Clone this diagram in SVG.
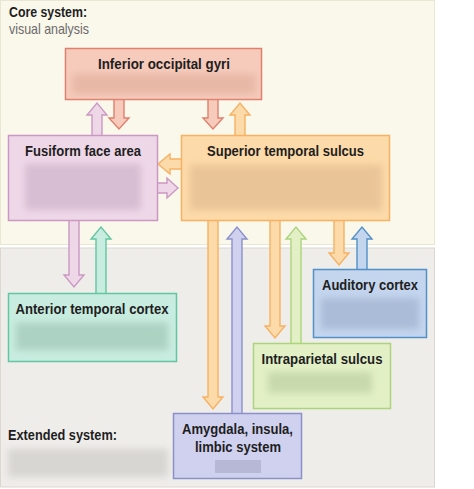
<svg xmlns="http://www.w3.org/2000/svg" width="474" height="489" viewBox="0 0 474 489">
<defs>
<filter id="blur" x="-20%" y="-40%" width="140%" height="180%"><feGaussianBlur stdDeviation="3.5"/></filter>
<style>
.t{font-family:"Liberation Sans",Arial,sans-serif;font-weight:bold;font-size:15px;fill:#1e1e1e}
.c{text-anchor:middle}
.sub{font-family:"Liberation Sans",Arial,sans-serif;font-size:14.5px;fill:#6a6a6a}
.box{stroke-width:1.5}
.arr{stroke-width:1.4;stroke-linejoin:miter}
.iog{fill:#f6cbbb;stroke:#e07f6e}
.ffa{fill:#eed8e8;stroke:#cb98c3}
.sts{fill:#fddaa9;stroke:#f6b163}
.atc{fill:#c8ecdf;stroke:#62c6a2}
.aud{fill:#c4d5ee;stroke:#5291c8}
.ips{fill:#e3f0c6;stroke:#acd47d}
.amy{fill:#d0d1ef;stroke:#8c90c9}
</style>
</defs>
<rect x="0" y="0" width="474" height="489" fill="#ffffff"/>
<rect x="0.5" y="0.5" width="434" height="244" fill="#faf7eb" stroke="#ebe5d4"/>
<rect x="0.5" y="248" width="434" height="239" fill="#efedea" stroke="#dcd7cf"/>
<text class="t" x="9" y="17" textLength="78" lengthAdjust="spacingAndGlyphs">Core system:</text>
<text class="sub" x="9" y="34" textLength="80" lengthAdjust="spacingAndGlyphs">visual analysis</text>
<text class="t" x="8" y="440" textLength="109" lengthAdjust="spacingAndGlyphs">Extended system:</text>
<rect x="8" y="449" width="160" height="28" fill="#d8d6d3" filter="url(#blur)"/>

<g id="connectors">
<path class="arr iog" d="M114,98 L114,118 L109,118 L119,129 L129,118 L124,118 L124,98"/>
<path class="arr iog" d="M208,98 L208,118 L203,118 L213,129 L223,118 L218,118 L218,98"/>
<path class="arr ffa" d="M92,136 L92,115 L87,115 L97,103 L107,115 L102,115 L102,136"/>
<path class="arr sts" d="M235,136 L235,115 L230,115 L240,103 L250,115 L245,115 L245,136"/>
<path class="arr sts" d="M182,159 L170,159 L170,154 L158,164 L170,174 L170,169 L182,169"/>
<path class="arr ffa" d="M156,183 L167,183 L167,178 L178,188 L167,198 L167,193 L156,193"/>
<path class="arr ffa" d="M69,219 L69,275 L64,275 L74,287 L84,275 L79,275 L79,219"/>
<path class="arr atc" d="M96,294 L96,239 L91,239 L101,227 L111,239 L106,239 L106,294"/>
<path class="arr sts" d="M208,219 L208,397 L203,397 L213,409 L223,397 L218,397 L218,219"/>
<path class="arr amy" d="M232,414 L232,239 L227,239 L237,227 L247,239 L242,239 L242,414"/>
<path class="arr sts" d="M270,219 L270,326 L265,326 L275,338 L285,326 L280,326 L280,219"/>
<path class="arr ips" d="M291,344 L291,239 L286,239 L296,227 L306,239 L301,239 L301,344"/>
<path class="arr sts" d="M334,219 L334,253 L329,253 L339,265 L349,253 L344,253 L344,219"/>
<path class="arr aud" d="M357,270 L357,239 L352,239 L362,227 L372,239 L367,239 L367,270"/>
</g>

<g id="iog">
<rect class="box iog" x="65.5" y="48.5" width="196" height="51"/>
<rect x="72" y="74" width="184" height="20" fill="#e8b8a6" filter="url(#blur)"/>
<text class="t c" x="164" y="69" textLength="132" lengthAdjust="spacingAndGlyphs">Inferior occipital gyri</text>
</g>
<g id="ffa">
<rect class="box ffa" x="8.5" y="135.5" width="149" height="85"/>
<rect x="25" y="164" width="116" height="46" fill="#d8bed3" filter="url(#blur)"/>
<text class="t c" x="83" y="156" textLength="116" lengthAdjust="spacingAndGlyphs">Fusiform face area</text>
</g>
<g id="sts">
<rect class="box sts" x="181.5" y="135.5" width="208" height="85"/>
<rect x="190" y="165" width="192" height="45" fill="#e9c497" filter="url(#blur)"/>
<text class="t c" x="285.5" y="156" textLength="157" lengthAdjust="spacingAndGlyphs">Superior temporal sulcus</text>
</g>
<g id="aud">
<rect class="box aud" x="313.5" y="269.5" width="113" height="68"/>
<rect x="321" y="298" width="98" height="31" fill="#aabcd8" filter="url(#blur)"/>
<text class="t c" x="370" y="290" textLength="96" lengthAdjust="spacingAndGlyphs">Auditory cortex</text>
</g>
<g id="atc">
<rect class="box atc" x="8.5" y="293.5" width="168" height="68"/>
<rect x="16" y="323" width="152" height="27" fill="#acd2c2" filter="url(#blur)"/>
<text class="t c" x="92" y="314" textLength="153" lengthAdjust="spacingAndGlyphs">Anterior temporal cortex</text>
</g>
<g id="ips">
<rect class="box ips" x="253.5" y="343.5" width="137" height="65"/>
<rect x="268" y="372" width="104" height="21" fill="#c8d9ad" filter="url(#blur)"/>
<text class="t c" x="322" y="364" textLength="121" lengthAdjust="spacingAndGlyphs">Intraparietal sulcus</text>
</g>
<g id="amy">
<rect class="box amy" x="173.5" y="413.5" width="128" height="65"/>
<rect x="215" y="460" width="46" height="13" fill="#b6b8d6"/>
<text class="t c" x="237.5" y="434" textLength="111" lengthAdjust="spacingAndGlyphs">Amygdala, insula,</text>
<text class="t c" x="238" y="452" textLength="86" lengthAdjust="spacingAndGlyphs">limbic system</text>
</g>
</svg>
